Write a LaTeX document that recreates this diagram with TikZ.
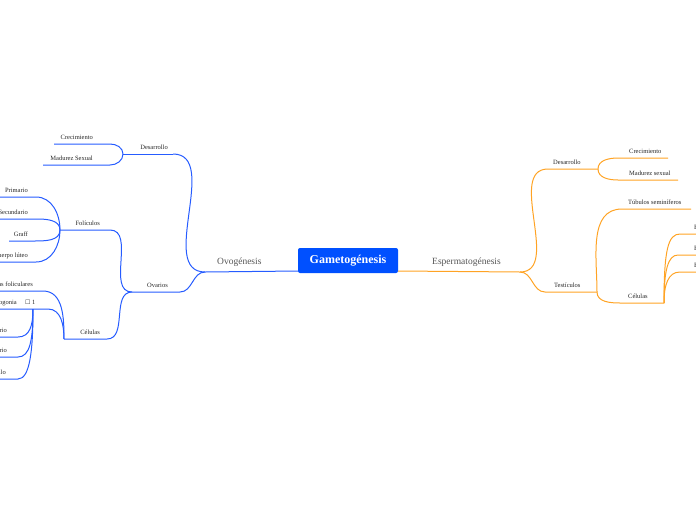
\documentclass[tikz,border=0pt]{standalone}
\usepackage{fontspec}
\setmainfont{Liberation Serif}
\newfontfamily\symfont{DejaVu Sans}
\definecolor{ovoblue}{RGB}{38,92,255}
\definecolor{esporange}{RGB}{255,163,36}
\definecolor{rootblue}{RGB}{0,80,255}
\definecolor{maingray}{RGB}{85,85,85}
\definecolor{leafgray}{RGB}{40,40,40}
\tikzset{
  ovoline/.style={draw=ovoblue, line width=1pt},
  espline/.style={draw=esporange, line width=1pt},
  leaf/.style={font=\fontsize{6.5}{7}\selectfont, text=leafgray, inner sep=0pt},
  mainlabel/.style={font=\fontsize{9.5}{11}\selectfont, text=maingray, inner sep=0pt},
  rootbox/.style={fill=rootblue, rounded corners=2pt, minimum width=100pt, minimum height=25pt,
    text=white, font=\fontsize{12}{14}\selectfont\bfseries}
}

\begin{document}
\begin{tikzpicture}[x=1pt,y=-1pt]
\useasboundingbox (0,0) rectangle (696,520);
\clip (0,0) rectangle (696,520);
% central topic
\node[rootbox] (root) at (348,260.5) {Gametogénesis};

% ----- Ovogenesis (left, blue)
\coordinate (ovoL) at (205,272);
\coordinate (ovoR) at (298,271);
\node[mainlabel, anchor=base west] (ovo) at (217,264) {Ovogénesis};
\draw[ovoline] (ovoL) -- (ovoR);

\coordinate (desL) at (123,154);
\coordinate (desR) at (173,154);
\node[leaf, anchor=base east] (des) at (168,149) {Desarrollo};
\draw[ovoline] (desL) -- (desR);
\draw[ovoline] (desR) to[out=0,in=180] (ovoL);

\coordinate (creL) at (54,144);
\coordinate (creR) at (110,144);
\node[leaf, anchor=base east] (cre) at (93,139) {Crecimiento};
\coordinate (madL) at (43,165);
\coordinate (madR) at (110,165);
\node[leaf, anchor=base east] (mad) at (93,160) {Madurez Sexual};
\draw[ovoline] (creL) -- (creR) to[out=0,in=90] (desL);
\draw[ovoline] (madL) -- (madR) to[out=0,in=-90] (desL);

\coordinate (ovaL) at (132,292);
\coordinate (ovaR) at (180,292);
\node[leaf, anchor=base east] (ova) at (168,287) {Ovarios};
\draw[ovoline] (ovaL) -- (ovaR) to[out=0,in=180] (ovoL);

\coordinate (folL) at (60,230);
\coordinate (folR) at (110,230);
\node[leaf, anchor=base east] (fol) at (100,225) {Folículos};
\draw[ovoline] (folL) -- (folR) to[out=0,in=180] (ovaL);

\coordinate (priR) at (36,197);
\node[leaf, anchor=base east] (pri) at (28,192) {Primario};
\coordinate (secR) at (38,219);
\node[leaf, anchor=base east] (sec) at (28,214) {Secundario};
\coordinate (graL) at (9,241);
\coordinate (graR) at (34,241);
\node[leaf, anchor=base east] (gra) at (28,236) {Graff};
\coordinate (cueR) at (36,262);
\node[leaf, anchor=base east] (cue) at (28,257) {Cuerpo lúteo};
\draw[ovoline] (-10,197) -- (priR) to[out=0,in=90] (folL);
\draw[ovoline] (-10,219) -- (secR) to[out=0,in=90] (folL);
\draw[ovoline] (graL) -- (graR) to[out=0,in=-90] (folL);
\draw[ovoline] (-10,262) -- (cueR) to[out=0,in=-90] (folL);

\coordinate (celL) at (64,339);
\coordinate (celR) at (107,339);
\node[leaf, anchor=base east] (cel) at (100,334) {Células};
\draw[ovoline] (celL) -- (celR) to[out=0,in=180] (ovaL);

\coordinate (cfoR) at (43,291);
\node[leaf, anchor=base east] (cfo) at (33,286) {Células foliculares};
\coordinate (ovgR) at (48,309);
\coordinate (ovgJ) at (33,309);
\node[leaf, anchor=base east] (ovg) at (17,304) {Ovogonia};
\node[leaf, anchor=base west] (ovgicon) at (25,304) {{\symfont\fontsize{6}{7}\selectfont ☐} 1};
\draw[ovoline] (-10,291) -- (cfoR) to[out=0,in=90] (celL);
\draw[ovoline] (-10,309) -- (ovgR) to[out=0,in=90] (celL);

\coordinate (op1R) at (18,337);
\node[leaf, anchor=base east] (op1) at (7,332) {Ovocito primario};
\coordinate (op2R) at (18,357);
\node[leaf, anchor=base east] (op2) at (7,352) {Ovocito secundario};
\coordinate (ovuR) at (18,379);
\node[leaf, anchor=base east] (ovu) at (6,374) {Óvulo};
\draw[ovoline] (-10,337) -- (op1R) .. controls (30,337) and (33,325) .. (ovgJ);
\draw[ovoline] (-10,357) -- (op2R) .. controls (30,357) and (33,340) .. (ovgJ);
\draw[ovoline] (-10,379) -- (ovuR) .. controls (30,379) and (33,350) .. (ovgJ);

% ----- Espermatogenesis (right, orange)
\coordinate (espL) at (398,271);
\coordinate (espR) at (520,272);
\node[mainlabel, anchor=base west] (esp) at (432,264) {Espermatogénesis};
\draw[espline] (espL) -- (espR);

\coordinate (rdesL) at (548,169);
\coordinate (rdesR) at (598,169);
\node[leaf, anchor=base west] (rdes) at (553,164) {Desarrollo};
\draw[espline] (espR) to[out=0,in=180] (rdesL) -- (rdesR);

\coordinate (rcreL) at (618,158);
\coordinate (rcreR) at (668,158);
\node[leaf, anchor=base west] (rcre) at (629,153) {Crecimiento};
\coordinate (rmadL) at (618,180);
\coordinate (rmadR) at (678,180);
\node[leaf, anchor=base west] (rmad) at (629,175) {Madurez sexual};
\draw[espline] (rdesR) to[out=90,in=180] (rcreL) -- (rcreR);
\draw[espline] (rdesR) to[out=-90,in=180] (rmadL) -- (rmadR);

\coordinate (testL) at (545,292);
\coordinate (testR) at (597,292);
\node[leaf, anchor=base west] (test) at (554,287) {Testículos};
\draw[espline] (espR) to[out=0,in=180] (testL) -- (testR);

\coordinate (tubL) at (622,209);
\coordinate (tubR) at (691,209);
\node[leaf, anchor=base west] (tub) at (628,204) {Túbulos seminíferos};
\draw[espline] (testR) to[out=90,in=180] (tubL) -- (tubR);

\coordinate (rcelL) at (620,303);
\coordinate (rcelR) at (664,303);
\node[leaf, anchor=base west] (rcel) at (628,298) {Células};
\draw[espline] (testR) to[out=-90,in=180] (rcelL) -- (rcelR);

\coordinate (sgoL) at (680,234);
\node[leaf, anchor=base west] (sgo) at (694,229) {Espermatogonias};
\coordinate (scyL) at (678,255);
\node[leaf, anchor=base west] (scy) at (694,250) {Espermatocitos};
\coordinate (stdL) at (680,272);
\node[leaf, anchor=base west] (std) at (694,267) {Espermátidas};
\draw[espline] (rcelR) .. controls (664,250) and (668,234) .. (sgoL) -- (706,234);
\draw[espline] (rcelR) .. controls (664,270) and (668,255) .. (scyL) -- (706,255);
\draw[espline] (rcelR) .. controls (664,285) and (668,272) .. (stdL) -- (706,272);
\end{tikzpicture}
\end{document}
